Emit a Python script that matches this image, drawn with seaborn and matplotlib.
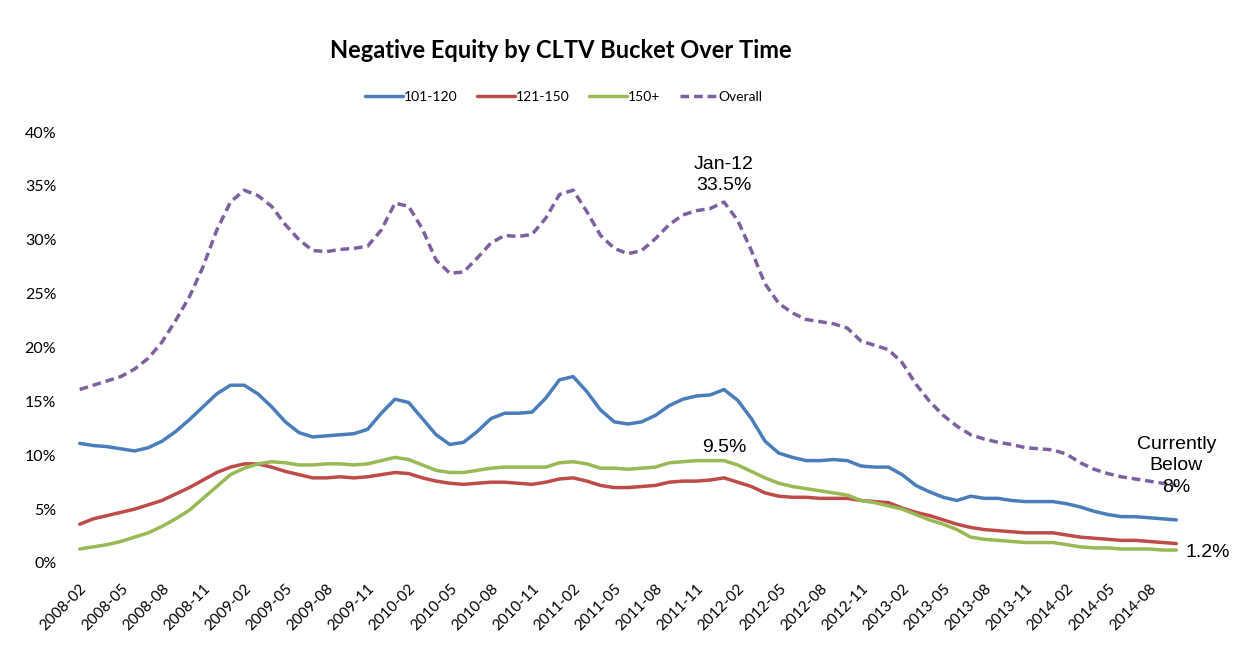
import pandas as pd
import matplotlib.pyplot as plt
import seaborn as sns

# monthly data, 2008-02 .. 2014-10 (share of loans in negative equity, %)
meses = pd.period_range('2008-02', '2014-10', freq='M').strftime('%Y-%m').tolist()

b101_120 = [11.1, 10.9, 10.8, 10.6, 10.4, 10.7, 11.3, 12.2, 13.3, 14.5, 15.7, 16.5, 16.5, 15.7, 14.5, 13.1,
            12.1, 11.7, 11.8, 11.9, 12.0, 12.4, 13.9, 15.2, 14.9, 13.4, 11.9, 11.0, 11.2, 12.2, 13.4, 13.9,
            13.9, 14.0, 15.3, 17.0, 17.3, 15.9, 14.2, 13.1, 12.9, 13.1, 13.7, 14.6, 15.2, 15.5, 15.6, 16.1,
            15.1, 13.4, 11.3, 10.2, 9.8, 9.5, 9.5, 9.6, 9.5, 9.0, 8.9, 8.9, 8.2, 7.2, 6.6, 6.1, 5.8, 6.2,
            6.0, 6.0, 5.8, 5.7, 5.7, 5.7, 5.5, 5.2, 4.8, 4.5, 4.3, 4.3, 4.2, 4.1, 4.0]
b121_150 = [3.6, 4.1, 4.4, 4.7, 5.0, 5.4, 5.8, 6.4, 7.0, 7.7, 8.4, 8.9, 9.2, 9.2, 8.9, 8.5,
            8.2, 7.9, 7.9, 8.0, 7.9, 8.0, 8.2, 8.4, 8.3, 7.9, 7.6, 7.4, 7.3, 7.4, 7.5, 7.5,
            7.4, 7.3, 7.5, 7.8, 7.9, 7.6, 7.2, 7.0, 7.0, 7.1, 7.2, 7.5, 7.6, 7.6, 7.7, 7.9,
            7.5, 7.1, 6.5, 6.2, 6.1, 6.1, 6.0, 6.0, 6.0, 5.8, 5.7, 5.6, 5.1, 4.7, 4.4, 4.0, 3.6, 3.3,
            3.1, 3.0, 2.9, 2.8, 2.8, 2.8, 2.6, 2.4, 2.3, 2.2, 2.1, 2.1, 2.0, 1.9, 1.8]
b150_mais = [1.3, 1.5, 1.7, 2.0, 2.4, 2.8, 3.4, 4.1, 4.9, 6.0, 7.1, 8.2, 8.8, 9.2, 9.4, 9.3,
             9.1, 9.1, 9.2, 9.2, 9.1, 9.2, 9.5, 9.8, 9.6, 9.1, 8.6, 8.4, 8.4, 8.6, 8.8, 8.9,
             8.9, 8.9, 8.9, 9.3, 9.4, 9.2, 8.8, 8.8, 8.7, 8.8, 8.9, 9.3, 9.4, 9.5, 9.5, 9.5,
             9.1, 8.5, 7.9, 7.4, 7.1, 6.9, 6.7, 6.5, 6.3, 5.8, 5.6, 5.3, 5.0, 4.5, 4.0, 3.6, 3.1, 2.4,
             2.2, 2.1, 2.0, 1.9, 1.9, 1.9, 1.7, 1.5, 1.4, 1.4, 1.3, 1.3, 1.3, 1.2, 1.2]
geral = [16.1, 16.5, 16.9, 17.3, 18.0, 19.0, 20.5, 22.5, 24.7, 27.5, 30.9, 33.5, 34.6, 34.1, 33.1, 31.4,
         30.0, 29.0, 28.9, 29.1, 29.2, 29.4, 30.9, 33.4, 33.1, 31.0, 28.1, 26.9, 27.0, 28.3, 29.7, 30.4,
         30.3, 30.5, 32.0, 34.2, 34.6, 32.6, 30.4, 29.2, 28.7, 29.0, 30.1, 31.4, 32.3, 32.7, 32.9, 33.5,
         31.8, 29.0, 25.9, 24.1, 23.2, 22.6, 22.4, 22.2, 21.8, 20.6, 20.2, 19.8, 18.6, 16.6, 15.0, 13.7, 12.7, 11.9,
         11.5, 11.2, 11.0, 10.7, 10.6, 10.5, 10.1, 9.3, 8.7, 8.3, 8.0, 7.8, 7.6, 7.4, 7.2]

series = ['101-120', '121-150', '150+', 'Overall']
cores = ['#4A7EBB', '#BE4B48', '#98B954', '#7D60A0']

dados = pd.DataFrame({'pos': range(len(meses)), 'mes': meses,
                      '101-120': b101_120, '121-150': b121_150, '150+': b150_mais, 'Overall': geral})

sns.set_style("white")
plt.rcParams['font.family'] = ['Lato', 'DejaVu Sans']
plt.rcParams['text.color'] = 'black'
plt.rcParams['xtick.color'] = 'black'
plt.rcParams['ytick.color'] = 'black'

fig = plt.figure(figsize=(12.54, 6.61), dpi=100)
ax = fig.add_axes([66 / 1254, 1 - 563 / 661, (1190 - 66) / 1254, (563 - 132) / 661])

for nome, cor in zip(series, cores):
    sns.lineplot(data=dados, x='pos', y=nome, ax=ax, color=cor, linewidth=2.5, label=nome)
    if nome == 'Overall':
        ax.lines[-1].set_dashes((2.5, 1.4))

ax.set_xlim(-1, len(meses))
ax.set_ylim(0, 40)
ax.set_yticks(range(0, 41, 5))
ax.set_yticklabels([f'{v}%' for v in range(0, 41, 5)], fontsize=11.5)
ax.set_xticks(dados['pos'][::3])
ax.set_xticklabels(dados['mes'][::3], fontsize=11, rotation=45, ha='right', rotation_mode='anchor')
ax.tick_params(axis='x', length=0, pad=13)
ax.tick_params(axis='y', length=0, pad=7)
ax.set_xlabel('')
ax.set_ylabel('')
sns.despine(ax=ax, left=True, bottom=True)

fig.text(561 / 1254, 1 - 58 / 661, 'Negative Equity by CLTV Bucket Over Time',
         ha='center', va='baseline', fontsize=17, fontweight='bold')

leg = ax.legend(loc='center', bbox_to_anchor=(564 / 1254, 1 - 97 / 661), bbox_transform=fig.transFigure,
                ncol=4, frameon=False, fontsize=10, handlelength=2.7, handletextpad=0.1,
                columnspacing=1.4)
leg.get_lines()[3].set_dashes((2.5, 1.4))

anot = dict(fontsize=14, family=['Liberation Sans', 'DejaVu Sans'], ha='center', va='center',
            textcoords='offset points')
pico = 47  # Jan-12
ax.annotate('Jan-12\n33.5%', xy=(pico, geral[pico]), xytext=(0, 19.5), linespacing=1.25, **anot)
ax.annotate('9.5%', xy=(pico, b150_mais[pico]), xytext=(0, 9.5), **anot)
fim = len(meses) - 1
ax.annotate('Currently\nBelow\n8%', xy=(fim, geral[fim]), xytext=(0, 14), linespacing=1.35, **anot)
ax.annotate('1.2%', xy=(fim, b150_mais[fim]), xytext=(6.5, -1.5), textcoords='offset points',
            fontsize=14, family=['Liberation Sans', 'DejaVu Sans'], ha='left', va='center')

plt.savefig('out.png', dpi=100)
